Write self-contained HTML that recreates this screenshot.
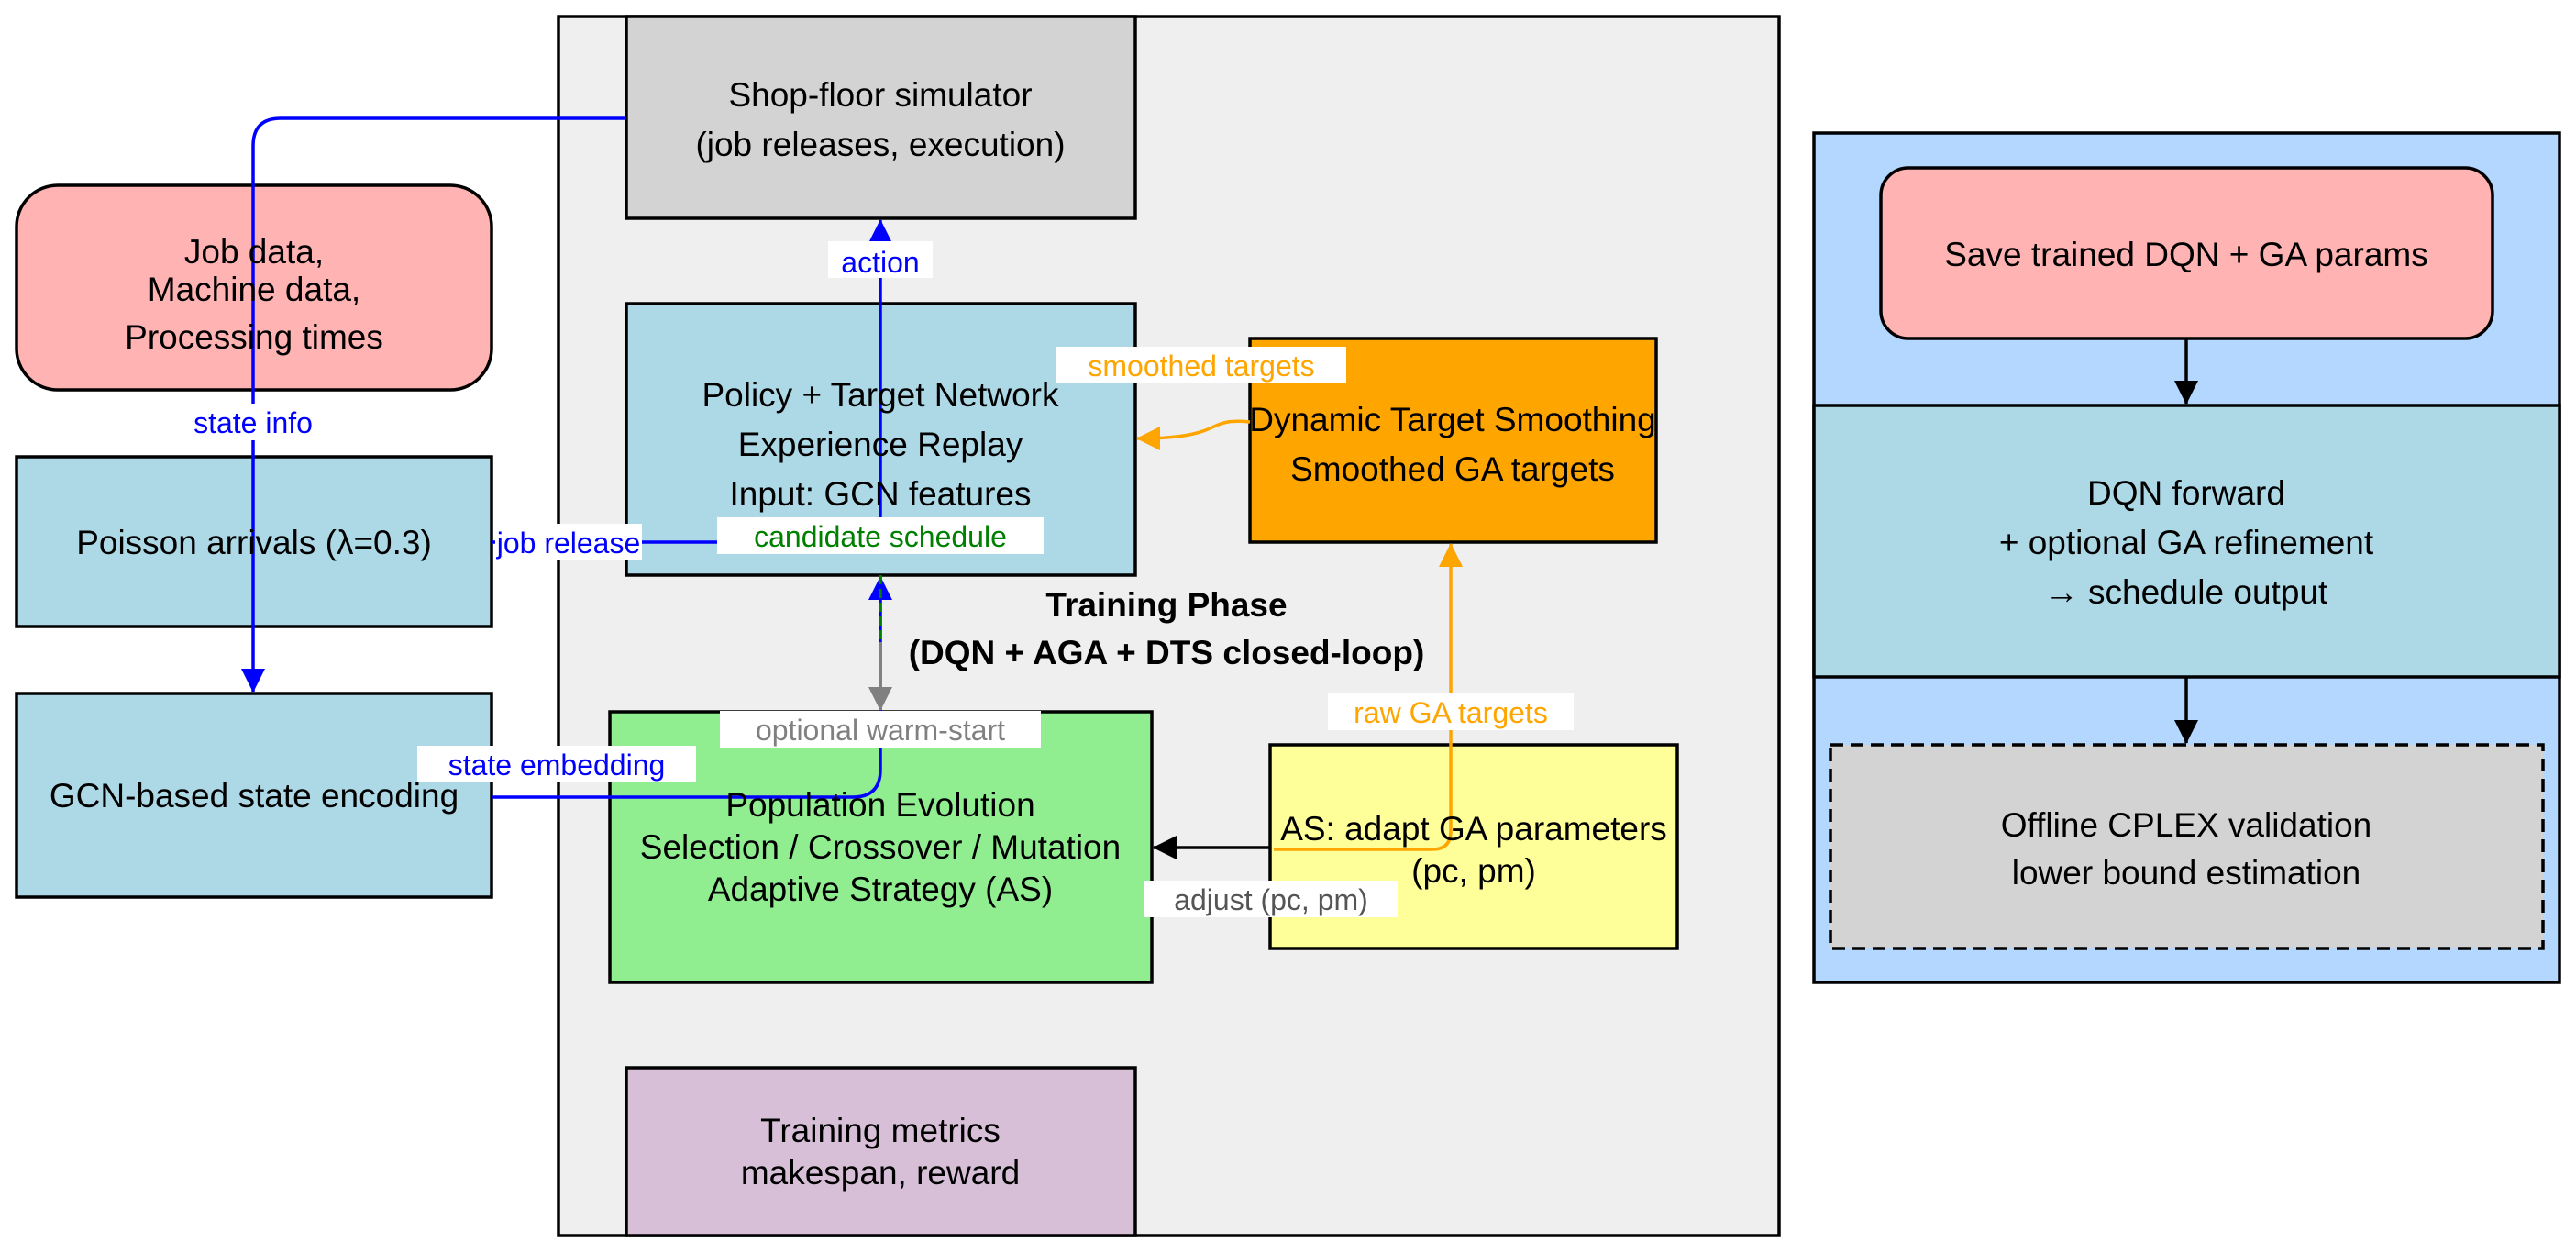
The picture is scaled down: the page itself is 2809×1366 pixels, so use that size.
<!DOCTYPE html>
<html><head><meta charset="utf-8"><style>
html,body{margin:0;padding:0;background:#fff;}
svg{display:block;}
text{font-family:"Liberation Sans",Arial,sans-serif;}
</style></head><body>
<svg width="2809" height="1366" viewBox="0 0 2809 1366" xmlns="http://www.w3.org/2000/svg">
<defs>
<marker id="ab" markerWidth="10" markerHeight="10" refX="9" refY="5" orient="auto" markerUnits="userSpaceOnUse" viewBox="0 0 10 10"><path d="M0,0 L10,5 L0,10z" fill="#0000ff"/></marker>
<marker id="ak" markerWidth="26" markerHeight="26" refX="25" refY="13" orient="auto" markerUnits="userSpaceOnUse" viewBox="0 0 26 26"><path d="M0,0 L26,13 L0,26z" fill="#000"/></marker>
<marker id="ao" markerWidth="26" markerHeight="26" refX="25" refY="13" orient="auto" markerUnits="userSpaceOnUse" viewBox="0 0 26 26"><path d="M0,0 L26,13 L0,26z" fill="#ffa500"/></marker>
<marker id="ag" markerWidth="26" markerHeight="26" refX="25" refY="13" orient="auto" markerUnits="userSpaceOnUse" viewBox="0 0 26 26"><path d="M0,0 L26,13 L0,26z" fill="#808080"/></marker>
<marker id="ab2" markerWidth="26" markerHeight="26" refX="25" refY="13" orient="auto" markerUnits="userSpaceOnUse" viewBox="0 0 26 26"><path d="M0,0 L26,13 L0,26z" fill="#0000ff"/></marker>
</defs>
<g stroke="#000" stroke-width="3.5">
<rect x="609" y="18" width="1331" height="1329" fill="#efefef"/>
<rect x="683" y="18" width="555" height="220" fill="#d3d3d3"/>
<rect x="683" y="331" width="555" height="296" fill="#add8e6"/>
<rect x="1363" y="369" width="443" height="222" fill="#ffa500"/>
<rect x="665" y="776" width="591" height="295" fill="#90ee90"/>
<rect x="1385" y="812" width="444" height="222" fill="#ffff99"/>
<rect x="683" y="1164" width="555" height="183" fill="#d8bfd8"/>
<rect x="18" y="202" width="518" height="223" rx="45" fill="#ffb3b3"/>
<rect x="18" y="498" width="518" height="185" fill="#add8e6"/>
<rect x="18" y="756" width="518" height="222" fill="#add8e6"/>
<rect x="1978" y="145" width="813" height="926" fill="#b3d7ff"/>
<rect x="1978" y="442" width="813" height="296" fill="#add8e6"/>
<rect x="2051" y="183" width="667" height="186" rx="30" fill="#ffb3b3"/>
<rect x="1996" y="812" width="777" height="222" fill="#d3d3d3" stroke-dasharray="14,8"/>
</g>
<g fill="none" stroke-width="3.5">
<path d="M683,129 H306 Q276,129 276,159 V754" stroke="#0000ff" marker-end="url(#ab2)"/>
<path d="M536,591 H930 Q960,591 960,561 V240" stroke="#0000ff" marker-end="url(#ab2)"/>
<path d="M536,869 H930 Q960,869 960,839 V629" stroke="#0000ff" marker-end="url(#ab2)"/>
<path d="M960,627 V700" stroke="#008000" stroke-dasharray="10,5"/>
<path d="M960,700 V774" stroke="#808080" marker-end="url(#ag)"/>
<path d="M1389,926 H1562 Q1582,926 1582,906 V593" stroke="#ffa500" marker-end="url(#ao)"/>
<path d="M1363,460 C1310,455 1340,478 1240,478" stroke="#ffa500" marker-end="url(#ao)"/>
<path d="M1385,924 H1258" stroke="#000" marker-end="url(#ak)"/>
<path d="M2384,369 V440" stroke="#000" marker-end="url(#ak)"/>
<path d="M2384,738 V810" stroke="#000" marker-end="url(#ak)"/>
</g>
<g font-size="37" text-anchor="middle" fill="#000">
<text x="960" y="116">Shop-floor simulator</text>
<text x="960" y="170">(job releases, execution)</text>
<text x="960" y="443">Policy + Target Network</text>
<text x="960" y="497">Experience Replay</text>
<text x="960" y="551">Input: GCN features</text>
<text x="1584" y="470">Dynamic Target Smoothing</text>
<text x="1584" y="524">Smoothed GA targets</text>
<text x="960" y="890">Population Evolution</text>
<text x="960" y="936">Selection / Crossover / Mutation</text>
<text x="960" y="982">Adaptive Strategy (AS)</text>
<text x="1607" y="916">AS: adapt GA parameters</text>
<text x="1607" y="962">(pc, pm)</text>
<text x="960" y="1245">Training metrics</text>
<text x="960" y="1291">makespan, reward</text>
<text x="277" y="287">Job data,</text>
<text x="277" y="328">Machine data,</text>
<text x="277" y="380">Processing times</text>
<text x="277" y="604">Poisson arrivals (λ=0.3)</text>
<text x="277" y="880">GCN-based state encoding</text>
<text x="2384" y="290">Save trained DQN + GA params</text>
<text x="2384" y="550">DQN forward</text>
<text x="2384" y="604">+ optional GA refinement</text>
<text x="2384" y="658">→ schedule output</text>
<text x="2384" y="912">Offline CPLEX validation</text>
<text x="2384" y="964">lower bound estimation</text>
<text x="1272" y="672" font-weight="bold">Training Phase</text>
<text x="1272" y="724" font-weight="bold">(DQN + AGA + DTS closed-loop)</text>
</g>
<g font-size="32" text-anchor="middle">
<rect x="903" y="263" width="114" height="40" fill="#fff"/><text x="960" y="297" fill="#0000ff">action</text>
<rect x="190" y="440" width="172" height="40" fill="#fff"/><text x="276" y="472" fill="#0000ff">state info</text>
<rect x="540" y="571" width="160" height="40" fill="#fff"/><text x="620" y="603" fill="#0000ff">job release</text>
<rect x="782" y="564" width="356" height="40" fill="#fff"/><text x="960" y="596" fill="#008000">candidate schedule</text>
<rect x="1152" y="378" width="316" height="40" fill="#fff"/><text x="1310" y="410" fill="#ffa500">smoothed targets</text>
<rect x="785" y="775" width="350" height="40" fill="#fff"/><text x="960" y="807" fill="#808080">optional warm-start</text>
<rect x="455" y="813" width="304" height="40" fill="#fff"/><text x="607" y="845" fill="#0000ff">state embedding</text>
<rect x="1448" y="756" width="268" height="40" fill="#fff"/><text x="1582" y="788" fill="#ffa500">raw GA targets</text>
<rect x="1248" y="960" width="276" height="40" fill="#fff"/><text x="1386" y="992" fill="#555">adjust (pc, pm)</text>
</g>
</svg>
</body></html>
